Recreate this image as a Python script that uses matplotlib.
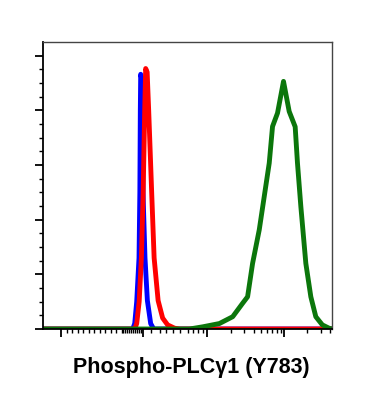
#! /usr/bin/env python3
# Flow cytometry histogram: Phospho-PLCg1 (Y783) staining, three overlays

import numpy as np
import matplotlib
matplotlib.use("Agg")
import matplotlib.pyplot as plt

### Data (x in decade units of the display axis, y = % of max) ###############
blue_x = [0.857, 2.026, 2.052, 2.078, 2.108, 2.119, 2.125, 2.130, 2.140,
          2.149, 2.160, 2.186, 2.217, 2.260, 2.299, 4.623]
blue_y = [0, 0, 2, 10, 26, 50, 80, 93.2, 92, 75, 50, 26, 10.4, 2, 0, 0]

red_x = [0.857, 2.052, 2.078, 2.110, 2.139, 2.162, 2.182, 2.195, 2.214,
         2.234, 2.260, 2.273, 2.305, 2.357, 2.416, 2.481, 2.571, 2.636, 4.623]
red_y = [0, 0, 2, 10, 26, 50, 80, 95.3, 94, 80, 60, 50, 26, 10.4, 4, 1.5,
         0.3, 0, 0]

green_x = [0.857, 2.766, 2.939, 3.156, 3.329, 3.458, 3.523, 3.588, 3.675,
           3.740, 3.805, 3.848, 3.913, 3.991, 4.065, 4.143, 4.173, 4.217,
           4.282, 4.347, 4.412, 4.497, 4.584, 4.623]
green_y = [0, 0, 0.8, 2, 4.5, 9.4, 11.8, 24, 36.3, 48.5, 60.7, 74.1, 79,
           90.6, 79.6, 74, 60.7, 44.8, 24, 11.8, 4.5, 1.5, 0.3, 0]

xlabel = "Phospho-PLC\u03b31 (Y783)"

def main():
    fig = plt.figure(figsize=(3.81, 3.96), dpi=100)
    ax = fig.add_axes([0.1129, 0.1692, 0.7585, 0.7247])

    lw = 3.5
    ax.plot(blue_x, blue_y, color="#0000ff", lw=lw, solid_joinstyle="round")
    ax.plot(red_x, red_y, color="#ff0000", lw=lw, solid_joinstyle="round")
    ax.plot(green_x, green_y, color="#0b760b", lw=lw, solid_joinstyle="round")

    ax.set_xlim(0.857, 4.623)
    ax.set_ylim(0, 105)

### Axis ticks (biexponential-looking display) ################################
    xmaj = [1.087, 2.156, 3, 4]
    xmin = list(np.linspace(1.165, 1.88, 11)) + list(np.linspace(1.896, 2.14, 10))
    xmin += [2.269, 2.377, 2.464, 2.549, 2.636, 2.744, 2.809, 2.874, 2.939]
    xmin += list(3 + np.log10(np.arange(2, 10))) + list(4 + np.log10([2, 3, 4]))
    ax.set_xticks(xmaj)
    ax.set_xticks(xmin, minor=True)
    ax.set_yticks(np.arange(0, 101, 20))
    ax.set_yticks(np.arange(0, 101, 5), minor=True)

    ax.tick_params(which="major", direction="out", length=6, width=1.3,
                   color="black", labelbottom=False, labelleft=False)
    ax.tick_params(which="minor", direction="out", length=3, width=1.0,
                   color="black")
    ax.tick_params(top=False, right=False, which="both")

    for s in ["left", "bottom"]:
        ax.spines[s].set_color("black")
        ax.spines[s].set_linewidth(1.3)
    for s in ["top", "right"]:
        ax.spines[s].set_color("#444444")
        ax.spines[s].set_linewidth(1.0)

    fig.text(0.5026, 1 - 367 / 396, xlabel, ha="center", va="center",
             fontsize=15.5, fontweight="bold", family=["Liberation Sans", "DejaVu Sans"])

    fig.savefig("out.png", dpi=100)

if __name__ == "__main__":
    main()
